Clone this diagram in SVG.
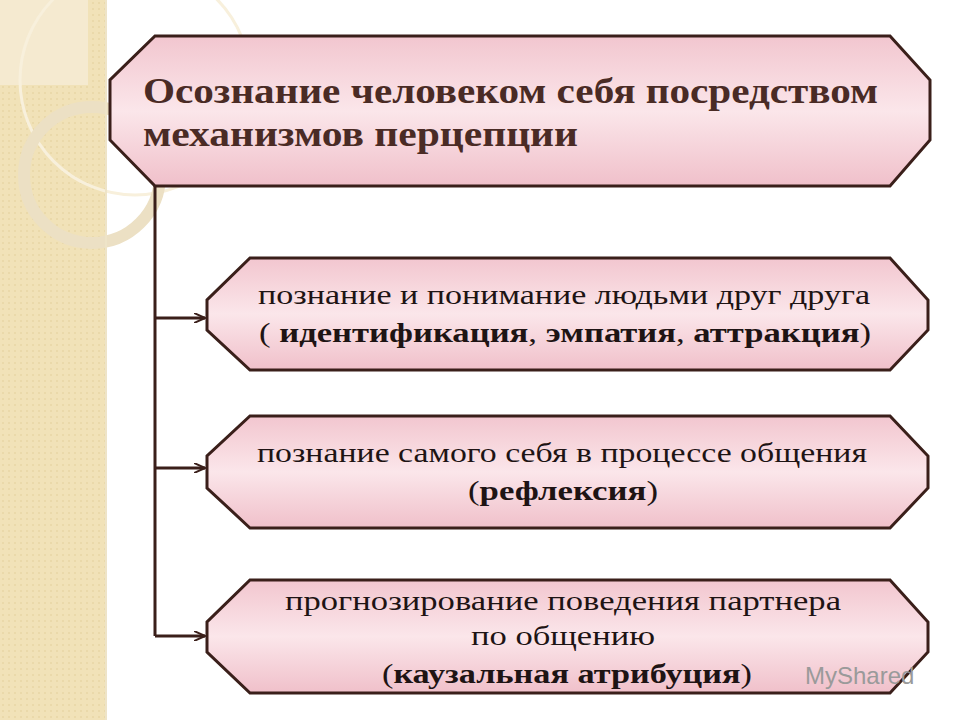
<svg xmlns="http://www.w3.org/2000/svg" width="960" height="720" viewBox="0 0 960 720">
<defs>
<linearGradient id="pk" x1="0" y1="0" x2="0" y2="1">
<stop offset="0" stop-color="#f2c6cf"/><stop offset="0.5" stop-color="#fbe6ea"/><stop offset="1" stop-color="#f0c0ca"/>
</linearGradient>
<pattern id="dots" width="6" height="6" patternUnits="userSpaceOnUse"><rect width="6" height="6" fill="#f1e2b8"/><circle cx="3" cy="3" r="1" fill="#e8d6a6"/></pattern>
<marker id="ar" markerWidth="12" markerHeight="10" refX="11" refY="5" orient="auto" markerUnits="userSpaceOnUse"><path d="M0,0 L11,5 L0,10" fill="none" stroke="#3a1f1a" stroke-width="2"/></marker>
<style>
.box{fill:url(#pk);stroke:#3a1f1a;stroke-width:3}
.t{font-family:"Liberation Serif","DejaVu Serif",serif;font-size:28px;fill:#1e1414;text-anchor:middle}
.b{font-weight:bold}
.h{font-family:"Liberation Serif","DejaVu Serif",serif;font-size:36px;font-weight:bold;fill:#4a2b25}
.c{fill:none;stroke:#f8f0dc;stroke-width:3}
</style>
</defs>
<rect width="960" height="720" fill="#ffffff"/>
<g id="decor">
<rect x="0" y="0" width="105" height="720" fill="url(#dots)"/>
<rect x="0" y="0" width="88" height="85" fill="#f5ead0"/>
<circle cx="135" cy="80" r="115" class="c"/>
<circle cx="92" cy="175" r="68" fill="none" stroke="#ece0c4" stroke-width="12"/>
<line x1="106" y1="0" x2="106" y2="720" stroke="#eee4c8" stroke-width="2"/>
</g>
<g id="connectors" fill="none" stroke="#3a1f1a" stroke-width="3">
<line x1="155" y1="186" x2="155" y2="636"/>
<line x1="155" y1="318" x2="205" y2="318" marker-end="url(#ar)"/>
<line x1="155" y1="468" x2="205" y2="468" marker-end="url(#ar)"/>
<line x1="155" y1="636" x2="205" y2="636" marker-end="url(#ar)"/>
</g>
<g id="n0">
<polygon class="box" points="155,36 890,36 930,80 930,140 890,186 155,186 110,140 110,80"/>
<text class="h" x="143" y="103" textLength="735" lengthAdjust="spacingAndGlyphs">Осознание человеком себя посредством</text>
<text class="h" x="143" y="146" textLength="435" lengthAdjust="spacingAndGlyphs">механизмов перцепции</text>
</g>
<g id="n1">
<polygon class="box" points="250,258 890,258 928,300 928,330 890,370 250,370 207,330 207,300"/>
<text class="t" x="564" y="304" textLength="612" lengthAdjust="spacingAndGlyphs">познание и понимание людьми друг друга</text>
<text class="t" x="565" y="342" textLength="612" lengthAdjust="spacingAndGlyphs">( <tspan class="b">идентификация</tspan>, <tspan class="b">эмпатия</tspan>, <tspan class="b">аттракция</tspan>)</text>
</g>
<g id="n2">
<polygon class="box" points="250,416 890,416 928,456 928,488 890,528 250,528 207,488 207,456"/>
<text class="t" x="562" y="462" textLength="610" lengthAdjust="spacingAndGlyphs">познание самого себя в процессе общения</text>
<text class="t" x="563" y="500" textLength="190" lengthAdjust="spacingAndGlyphs">(<tspan class="b">рефлексия</tspan>)</text>
</g>
<g id="n3">
<polygon class="box" points="250,580 890,580 928,622 928,652 890,693 250,693 207,652 207,622"/>
<text class="t" x="563" y="610" textLength="556" lengthAdjust="spacingAndGlyphs">прогнозирование поведения партнера</text>
<text class="t" x="563" y="645" textLength="184" lengthAdjust="spacingAndGlyphs">по общению</text>
<text class="t" x="567" y="683" textLength="370" lengthAdjust="spacingAndGlyphs">(<tspan class="b">каузальная атрибуция</tspan>)</text>
</g>
<text x="805" y="684" font-family="Liberation Sans, sans-serif" font-size="24" fill="#9a9a9a">MyShared</text>
</svg>
